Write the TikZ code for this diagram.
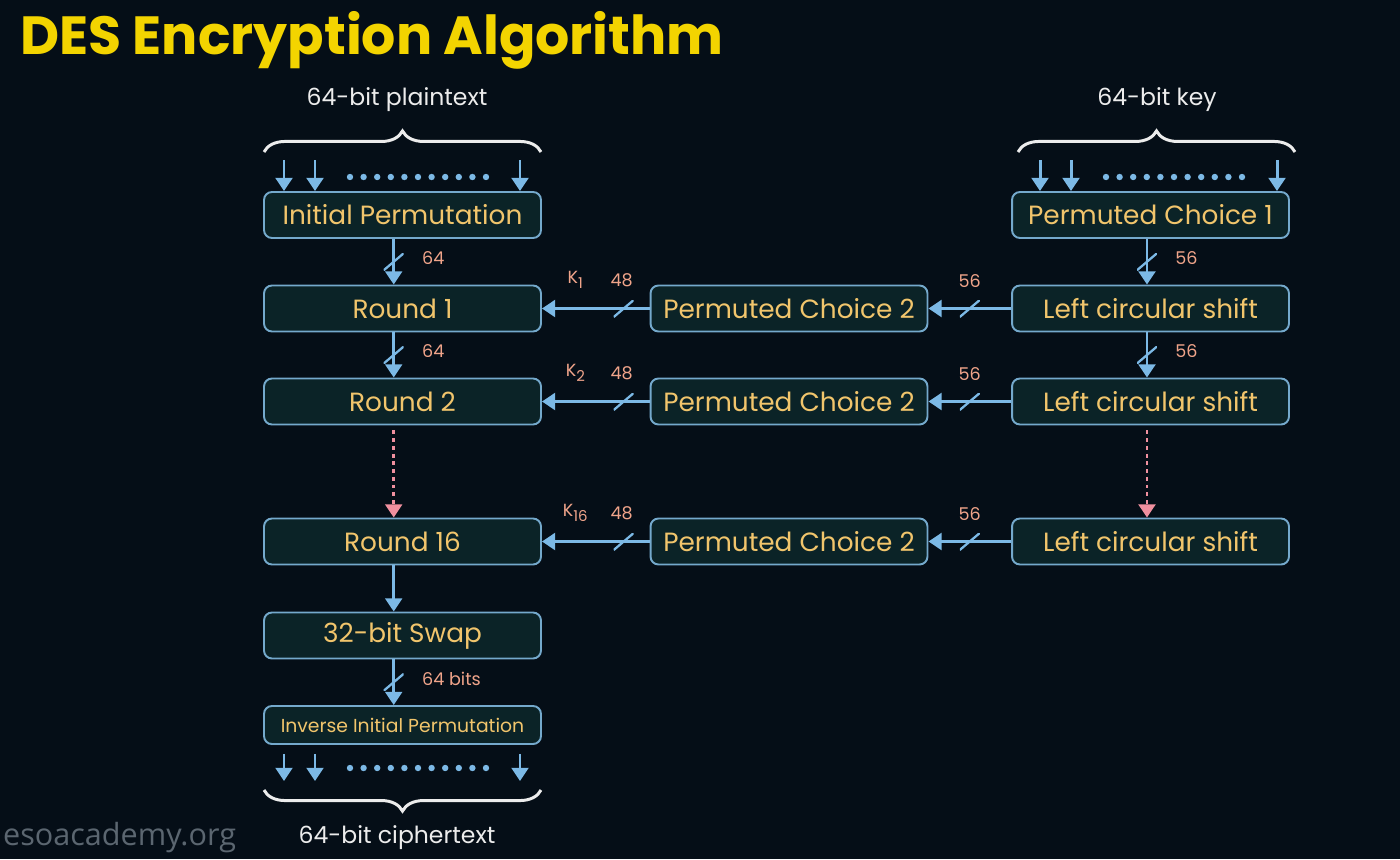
\documentclass[tikz,border=0pt]{standalone}
\usepackage{fontspec}
\setmainfont{Poppins}
\newfontfamily\markfont{Open Sans}
\usetikzlibrary{arrows.meta, positioning, decorations.pathreplacing}

\definecolor{bgcol}{HTML}{050E17}
\definecolor{boxfill}{HTML}{0B2327}
\definecolor{boxline}{HTML}{74A9CC}
\definecolor{boxtext}{HTML}{F1C56C}
\definecolor{flowblue}{HTML}{7CB9E6}
\definecolor{dotpink}{HTML}{F0909F}
\definecolor{bitred}{HTML}{F0A48A}
\definecolor{titleyellow}{HTML}{F3D400}
\definecolor{softwhite}{HTML}{ECECEC}
\definecolor{markgrey}{HTML}{5B6670}

\newcommand{\subkey}[1]{K\raisebox{-0.3em}{\fontsize{8.5}{9}\selectfont #1}}

\begin{document}
\begin{tikzpicture}[x=0.02cm, y=-0.02cm, >={Triangle[width=9.5pt,length=7.5pt]},
  box/.style={draw=boxline, fill=boxfill, line width=1.1pt, rounded corners=4.5pt, minimum width=5.54cm, minimum height=0.92cm, inner sep=0pt, text=boxtext, font=\fontsize{15}{17}\selectfont},
  flow/.style={->, draw=flowblue, line width=1.7pt},
  dotflow/.style={->, draw=dotpink, line width=1.7pt, dash pattern=on 2.2pt off 2.2pt},
  slash/.style={inner sep=0pt, minimum width=0.4cm, minimum height=0.34cm, path picture={\draw[-, flowblue, line width=1.3pt] (path picture bounding box.south west) -- (path picture bounding box.north east);}},
  bits/.style={text=bitred, font=\fontsize{10}{12}\selectfont},
  caption/.style={text=softwhite, font=\fontsize{13.4}{15}\selectfont},
  brace/.style={draw=softwhite, line width=1.7pt, decorate, decoration={brace, amplitude=12pt}}]

\fill[bgcol] (0,0) rectangle (1400,859);
\useasboundingbox (0,0) rectangle (1400,859);

\node[anchor=west, text=titleyellow, font=\fontsize{30.6}{34}\selectfont\bfseries] (title) at (14,40) {DES Encryption Algorithm};

% left column
\node[box] (ip) at (402.5,215) {Initial Permutation};
\node[box] (r1) at (402.5,308.5) {Round 1};
\node[box] (r2) at (402.5,401.5) {Round 2};
\node[box] (r16) at (402.5,541.5) {Round 16};
\node[box] (swap) at (402.5,635.5) {32-bit Swap};
\node[box, minimum height=0.76cm, font=\fontsize{10.7}{12}\selectfont] (inv) at (402.5,725) {Inverse Initial Permutation};

% middle column
\node[box] (pcA) at (789,308.5) {Permuted Choice 2};
\node[box] (pcB) at (789,401.5) {Permuted Choice 2};
\node[box] (pcC) at (789,541.5) {Permuted Choice 2};

% right column
\node[box] (pc1) at (1150.5,215) {Permuted Choice 1};
\node[box] (ls1) at (1150.5,308.5) {Left circular shift};
\node[box] (ls2) at (1150.5,401.5) {Left circular shift};
\node[box] (ls16) at (1150.5,541.5) {Left circular shift};

% plaintext and key inputs
\node[caption] (plain) at (397,100) {64-bit plaintext};
\node[caption] (key) at (1157,100) {64-bit key};
\draw[brace] (264,152) -- (541,152);
\draw[brace] (1018,152) -- (1295,152);
\foreach \x in {284,315,520} \draw[flow] (\x,160) -- (\x,0 |- ip.north);
\foreach \x in {1040,1071,1277} \draw[flow] (\x,160) -- (\x,0 |- pc1.north);
\foreach \i in {0,...,10} {
  \fill[flowblue] (350+13.6*\i,177) circle (3.2);
  \fill[flowblue] (1106+13.6*\i,177) circle (3.2);
}

% rounds
\draw[flow] ([xshift=-5pt]ip.south) -- node[slash]{} node[bits, right=12pt, yshift=2pt]{64} ([xshift=-5pt]r1.north);
\draw[flow] ([xshift=-5pt]r1.south) -- node[slash]{} node[bits, right=12pt, yshift=2pt]{64} ([xshift=-5pt]r2.north);
\draw[dotflow] ([xshift=-5pt]r2.south) ++(0,5) -- ([xshift=-5pt]r16.north);
\draw[flow] ([xshift=-5pt]r16.south) -- ([xshift=-5pt]swap.north);
\draw[flow] ([xshift=-5pt]swap.south) -- node[slash]{} node[bits, right=12pt, yshift=2pt]{64 bits} ([xshift=-5pt]inv.north);

% key schedule
\draw[flow] ([xshift=-2pt]pc1.south) -- node[slash]{} node[bits, right=12pt, yshift=2pt]{56} ([xshift=-2pt]ls1.north);
\draw[flow] ([xshift=-2pt]ls1.south) -- node[slash]{} node[bits, right=12pt, yshift=2pt]{56} ([xshift=-2pt]ls2.north);
\draw[dotflow] ([xshift=-2pt]ls2.south) ++(0,5) -- ([xshift=-2pt]ls16.north);

% subkeys
\draw[flow] (ls1) -- node[slash]{} node[bits, above=8pt]{56} (pcA);
\draw[flow] (ls2) -- node[slash]{} node[bits, above=8pt]{56} (pcB);
\draw[flow] (ls16) -- node[slash]{} node[bits, above=8pt]{56} (pcC);
\draw[flow] (pcA) -- node[pos=0.24, slash]{} node[pos=0.26, bits, above=8pt]{48} node[pos=0.69, bits, above=7pt]{\subkey{1}} (r1);
\draw[flow] (pcB) -- node[pos=0.24, slash]{} node[pos=0.26, bits, above=8pt]{48} node[pos=0.69, bits, above=7pt]{\subkey{2}} (r2);
\draw[flow] (pcC) -- node[pos=0.24, slash]{} node[pos=0.26, bits, above=8pt]{48} node[pos=0.69, bits, above=7pt]{\subkey{16}} (r16);

% ciphertext output
\foreach \x in {284,315,520} \draw[flow, shorten <=5pt] (\x,0 |- inv.south) -- (\x,781);
\foreach \i in {0,...,10} \fill[flowblue] (350+13.6*\i,768) circle (3.2);
\draw[brace] (541,790) -- (264,790);
\node[caption] (cipher) at (397,838) {64-bit ciphertext};

\node[anchor=west, text=markgrey, font=\markfont\fontsize{17.4}{20}\selectfont] (mark) at (-3,838) {esoacademy.org};
\end{tikzpicture}
\end{document}
